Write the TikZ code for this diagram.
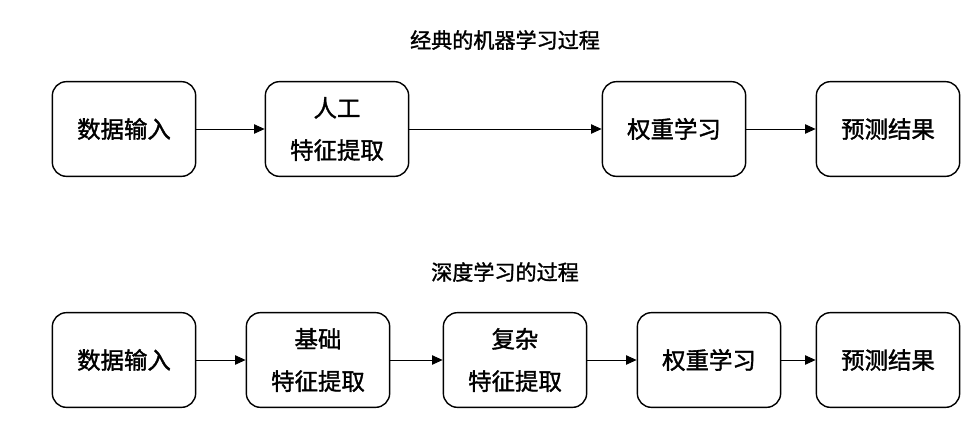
\documentclass[tikz,border=0pt]{standalone}
\usepackage{fontspec}
\setmainfont{Noto Sans CJK SC}
\newfontfamily\cjkmed[FakeBold=1.5]{Noto Sans CJK SC}
\usetikzlibrary{arrows.meta}
\tikzset{
  stepbox/.style={rectangle, rounded corners=12pt, draw=black, line width=1.2pt, minimum width=4.3cm, minimum height=2.84cm, align=center, font=\cjkmed\fontsize{20}{36}\selectfont, inner sep=0pt},
  arrow/.style={line width=0.8pt, -{Triangle[length=9pt,width=8pt]}},
  heading/.style={font=\cjkmed\fontsize{18}{22}\selectfont}
}
\begin{document}
\begin{tikzpicture}[x=0.03cm,y=-0.03cm]
\useasboundingbox (0,0) rectangle (979,445);
\node[heading] (title1) at (505,40) {经典的机器学习过程};
\node[stepbox] (in1) at (124,129) {数据输入};
\node[stepbox] (feat1) at (337,129) {人工\\特征提取};
\node[stepbox] (learn1) at (674,129) {权重学习};
\node[stepbox] (out1) at (888,129) {预测结果};
\draw[arrow] (in1) -- (feat1);
\draw[arrow] (feat1) -- (learn1);
\draw[arrow] (learn1) -- (out1);

\node[heading] (title2) at (505,272) {深度学习的过程};
\node[stepbox] (in2) at (124,360) {数据输入};
\node[stepbox] (basic2) at (318,360) {基础\\特征提取};
\node[stepbox] (complex2) at (515,360) {复杂\\特征提取};
\node[stepbox] (learn2) at (709,360) {权重学习};
\node[stepbox] (out2) at (888,360) {预测结果};
\draw[arrow] (in2) -- (basic2);
\draw[arrow] (basic2) -- (complex2);
\draw[arrow] (complex2) -- (learn2);
\draw[arrow] (learn2) -- (out2);
\end{tikzpicture}
\end{document}
